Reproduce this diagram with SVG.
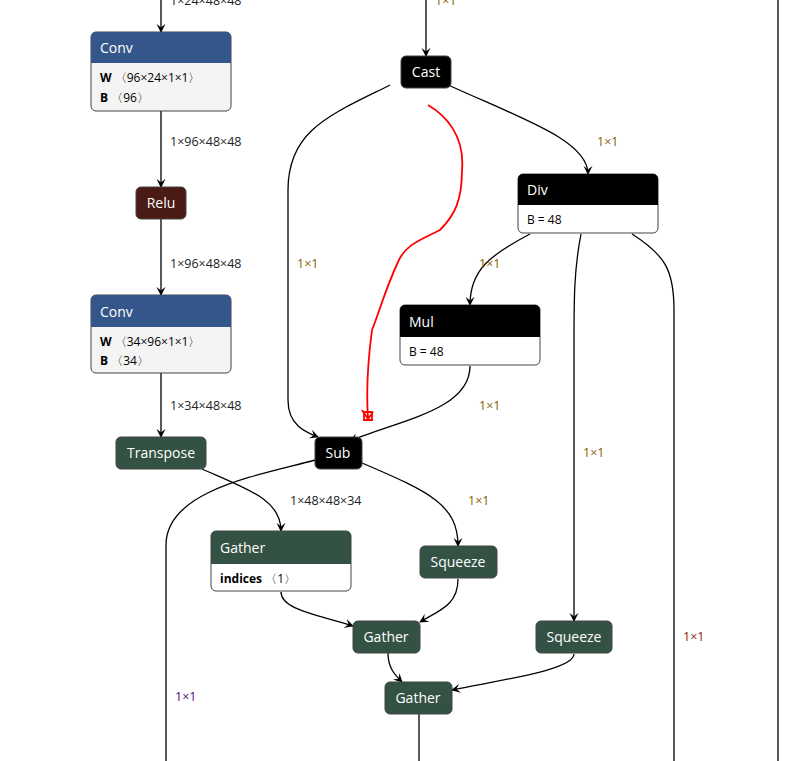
<svg xmlns="http://www.w3.org/2000/svg" width="794" height="761" viewBox="0 0 794 761">
<style>
text{font-family:"Open Sans","Noto Sans","Liberation Sans",sans-serif}
.t{font-size:14px;fill:#fff}
.a{font-size:12px;fill:#000}
.b{font-weight:bold}
.l{font-size:12.5px;fill:#222}
.o{fill:#8a5a00}
.e{fill:none;stroke:#000;stroke-width:1.3}
.bx{stroke:#444;stroke-width:1}
</style>
<defs>
<marker id="ar" viewBox="0 0 10 10" refX="9" refY="5" markerWidth="7" markerHeight="7" orient="auto"><path d="M0,0L10,5L0,10L4,5z" fill="#000"/></marker>
</defs>
<rect width="794" height="761" fill="#fff"/>
<line x1="778" y1="0" x2="778" y2="761" stroke="#000" stroke-width="1.3"/>
<g id="connectors">
<path class="e" marker-end="url(#ar)" d="M161,0V32"/>
<path class="e" marker-end="url(#ar)" d="M161,111V187"/>
<path class="e" marker-end="url(#ar)" d="M161,219V295"/>
<path class="e" marker-end="url(#ar)" d="M161,373V437"/>
<path class="e" marker-end="url(#ar)" d="M426,0V56"/>
<path class="e" marker-end="url(#ar)" d="M390,85C330,115 288,130 288,190V400C288,425 305,432 318,437"/>
<path class="e" marker-end="url(#ar)" d="M446,84C520,118 588,140 588,174"/>
<path class="e" marker-end="url(#ar)" d="M530,234C490,255 470,270 470,305"/>
<path class="e" marker-end="url(#ar)" d="M470,366C470,410 400,420 350,441"/>
<path class="e" marker-end="url(#ar)" d="M581,234C574,270 574,300 574,340V621"/>
<path class="e" d="M632,234C665,255 674,270 674,310V761"/>
<path class="e" d="M315,460C260,475 166,490 166,545V761"/>
<path class="e" marker-end="url(#ar)" d="M202,469C250,490 281,500 281,531"/>
<path class="e" marker-end="url(#ar)" d="M362,463C430,492 458,505 458,546"/>
<path class="e" marker-end="url(#ar)" d="M281,592C281,610 320,615 353,626"/>
<path class="e" marker-end="url(#ar)" d="M458,579C458,605 440,610 420,622"/>
<path class="e" marker-end="url(#ar)" d="M388,653C388,668 395,675 402,682"/>
<path class="e" marker-end="url(#ar)" d="M574,654C574,670 500,680 452,690"/>
<path class="e" d="M419,714V761"/>
</g>
<g id="labels">
<text class="l" x="170" y="5">1×24×48×48</text>
<text class="l" x="170" y="146">1×96×48×48</text>
<text class="l" x="170" y="268">1×96×48×48</text>
<text class="l" x="170" y="410">1×34×48×48</text>
<text class="l o" x="435" y="5">1×1</text>
<text class="l o" x="297" y="268">1×1</text>
<text class="l o" x="597" y="146">1×1</text>
<text class="l o" x="479" y="268">1×1</text>
<text class="l o" x="479" y="410">1×1</text>
<text class="l o" x="583" y="457">1×1</text>
<text class="l" x="683" y="641" fill="#8a1a00" style="fill:#8a1a00">1×1</text>
<text class="l" x="175" y="701" style="fill:#5a007a">1×1</text>
<text class="l" x="290" y="505">1×48×48×34</text>
<text class="l o" x="468" y="505">1×1</text>
</g>
<g id="conv1"><rect class="bx" x="91" y="32" width="140" height="79" rx="5" fill="#f4f4f4"/><path d="M96,32H226A5,5 0 0 1 231,37V63H91V37A5,5 0 0 1 96,32z" fill="#34568a"/><text class="t" x="100" y="53">Conv</text><text class="a" x="100" y="82"><tspan class="b">W</tspan> 〈96×24×1×1〉</text><text class="a" x="100" y="102"><tspan class="b">B</tspan> 〈96〉</text></g>
<g id="relu"><rect class="bx" x="136" y="187" width="50" height="32" rx="5" fill="#4a1a14"/><text class="t" x="161" y="208" text-anchor="middle">Relu</text></g>
<g id="conv2"><rect class="bx" x="91" y="295" width="140" height="78" rx="5" fill="#f4f4f4"/><path d="M96,295H226A5,5 0 0 1 231,300V327H91V300A5,5 0 0 1 96,295z" fill="#34568a"/><text class="t" x="100" y="317">Conv</text><text class="a" x="100" y="346"><tspan class="b">W</tspan> 〈34×96×1×1〉</text><text class="a" x="100" y="365"><tspan class="b">B</tspan> 〈34〉</text></g>
<g id="transpose"><rect class="bx" x="116" y="437" width="90" height="32" rx="5" fill="#335244"/><text class="t" x="161" y="458" text-anchor="middle">Transpose</text></g>
<g id="cast"><rect class="bx" x="401" y="56" width="50" height="32" rx="5" fill="#000"/><text class="t" x="426" y="77" text-anchor="middle">Cast</text></g>
<g id="div"><rect class="bx" x="518" y="174" width="140" height="59" rx="5" fill="#fff"/><path d="M523,174H653A5,5 0 0 1 658,179V205H518V179A5,5 0 0 1 523,174z" fill="#000"/><text class="t" x="527" y="195">Div</text><text class="a" x="527" y="224">B = 48</text></g>
<g id="mul"><rect class="bx" x="400" y="305" width="140" height="60" rx="5" fill="#fff"/><path d="M405,305H535A5,5 0 0 1 540,310V337H400V310A5,5 0 0 1 405,305z" fill="#000"/><text class="t" x="409" y="327">Mul</text><text class="a" x="409" y="356">B = 48</text></g>
<g id="sub"><rect class="bx" x="315" y="437" width="47" height="32" rx="5" fill="#000"/><text class="t" x="338" y="458" text-anchor="middle">Sub</text></g>
<g id="gather1"><rect class="bx" x="211" y="531" width="140" height="60" rx="5" fill="#fff"/><path d="M216,531H346A5,5 0 0 1 351,536V564H211V536A5,5 0 0 1 216,531z" fill="#335244"/><text class="t" x="220" y="553">Gather</text><text class="a" x="220" y="583"><tspan class="b">indices</tspan> 〈1〉</text></g>
<g id="squeeze1"><rect class="bx" x="420" y="546" width="77" height="32" rx="5" fill="#335244"/><text class="t" x="458" y="567" text-anchor="middle">Squeeze</text></g>
<g id="gather2"><rect class="bx" x="353" y="621" width="67" height="32" rx="5" fill="#335244"/><text class="t" x="386" y="642" text-anchor="middle">Gather</text></g>
<g id="squeeze2"><rect class="bx" x="536" y="621" width="76" height="32" rx="5" fill="#335244"/><text class="t" x="574" y="642" text-anchor="middle">Squeeze</text></g>
<g id="gather3"><rect class="bx" x="385" y="682" width="67" height="32" rx="5" fill="#335244"/><text class="t" x="418" y="703" text-anchor="middle">Gather</text></g>
<path d="M428,105C445,115 465,135 462,170C462,200 455,215 440,230C420,240 405,245 398,262C385,290 380,310 372,330C368,360 366,390 368,418M362,410L368,419L373,412M364,412H372V420H364z" fill="none" stroke="#f00" stroke-width="1.8"/>
</svg>
